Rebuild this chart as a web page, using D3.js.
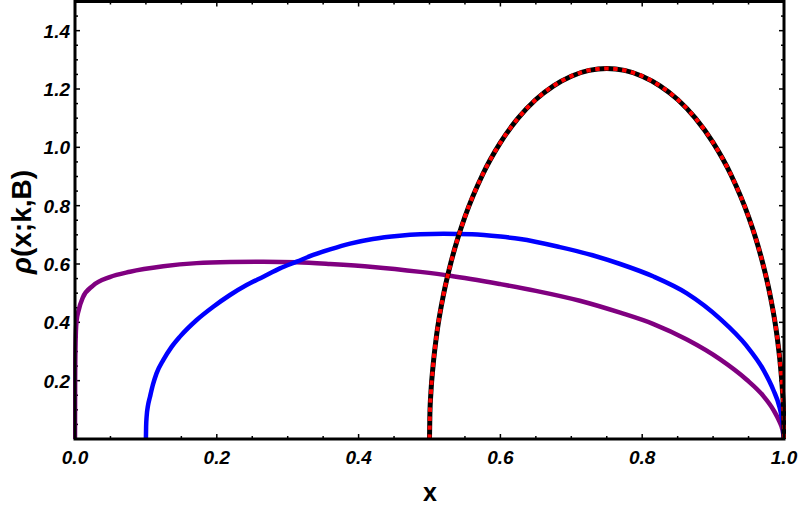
<!DOCTYPE html>
<html>
<head>
<meta charset="utf-8">
<script src="https://cdn.jsdelivr.net/npm/d3@7"></script>
<style>
    html, body { margin: 0; padding: 0; background: #fff; }
    svg { display: block; font-family: "Liberation Sans", Arial, sans-serif; }
</style>
</head>
<body>
<div id="chart"></div>
<script>
// =============================================================================
// Data - values
// =============================================================================
const xTicks = [0, 0.2, 0.4, 0.6, 0.8, 1.0];
const yTicks = [0.2, 0.4, 0.6, 0.8, 1.0, 1.2, 1.4];

// purple curve (starts at x = 0)
const purpleX = [0, 0.0002, 0.0008, 0.002, 0.005, 0.011, 0.025, 0.049, 0.0776, 0.1246, 0.1716,
    0.2186, 0.2656, 0.3127, 0.3597, 0.42, 0.487, 0.529, 0.6, 0.65, 0.712, 0.769, 0.816, 0.863,
    0.91, 0.947, 0.971, 0.985, 0.9935, 0.998, 1.0];
const purpleY = [0, 0.2, 0.33, 0.40, 0.44, 0.485, 0.525, 0.555, 0.5735, 0.592, 0.603,
    0.607, 0.608, 0.606, 0.600, 0.590, 0.573, 0.560, 0.531, 0.508, 0.474, 0.433, 0.394, 0.341,
    0.273, 0.204, 0.147, 0.100, 0.060, 0.03, 0];

// blue curve (starts at x = 0.1)
const blueX = [0.1, 0.1003, 0.101, 0.103, 0.1058, 0.11, 0.115, 0.1246, 0.136, 0.148, 0.1716,
    0.195, 0.2186, 0.242, 0.2656, 0.289, 0.3127, 0.336, 0.3597, 0.388, 0.42, 0.458, 0.487, 0.52,
    0.56, 0.6, 0.628, 0.684, 0.73, 0.769, 0.816, 0.863, 0.91, 0.947, 0.971, 0.985, 0.9935,
    0.9967, 0.999, 1.0];
const blueY = [0, 0.043, 0.076, 0.115, 0.145, 0.187, 0.225, 0.271, 0.315, 0.351, 0.408,
    0.4535, 0.4937, 0.528, 0.5565, 0.585, 0.608, 0.631, 0.650, 0.670, 0.686, 0.697, 0.702, 0.704,
    0.702, 0.694, 0.686, 0.658, 0.630, 0.600, 0.557, 0.4995, 0.412, 0.320, 0.237, 0.168, 0.111,
    0.075, 0.035, 0];

// black solid curve, red dotted curve lies on top of it
const blackX = [0.5, 0.5005, 0.502, 0.505, 0.51, 0.52, 0.53, 0.54, 0.55, 0.575, 0.6, 0.625,
    0.65, 0.675, 0.7, 0.725, 0.75, 0.775, 0.8, 0.825, 0.85, 0.875, 0.9, 0.925, 0.95, 0.96,
    0.97, 0.98, 0.99, 0.995, 0.998, 0.9995, 1.0];
const blackY = [0, 0.08, 0.16, 0.25, 0.356, 0.498, 0.603, 0.689, 0.762, 0.907, 1.016, 1.10,
    1.164, 1.211, 1.244, 1.264, 1.27, 1.264, 1.244, 1.211, 1.164, 1.10, 1.016, 0.907, 0.762, 0.689,
    0.603, 0.498, 0.356, 0.25, 0.16, 0.08, 0];
const redX = blackX;
const redY = blackY;

// =============================================================================
// Visual configuration
// =============================================================================
const WIDTH = 800;
const HEIGHT = 507;
const FRAME = { left: 75, right: 784, top: 1.5, bottom: 439 };
const FRAME_STROKE = 3;
const MAJOR_TICK = 5;
const MINOR_TICK = 3;
const LINE_WIDTH = 4.5;
const TICK_FONT = '19px';

const svg = d3.select('#chart')
    .append('svg')
    .attr('width', WIDTH)
    .attr('height', HEIGHT);

const xScale = d3.scaleLinear().domain([0, 1]).range([FRAME.left, FRAME.right]);
const yScale = d3.scaleLinear().domain([0, 1.5]).range([FRAME.bottom, FRAME.top]);

// Clip for curves
svg.append('defs')
    .append('clipPath')
    .attr('id', 'clip')
    .append('rect')
    .attr('x', FRAME.left - 2)
    .attr('y', FRAME.top)
    .attr('width', FRAME.right - FRAME.left + 4)
    .attr('height', FRAME.bottom - FRAME.top + 1);

// Minor tick values (every 0.05)
const xMinor = d3.range(0, 1.0001, 0.05).filter(v => !xTicks.some(t => Math.abs(t - v) < 1e-6));
const yMinor = d3.range(0.05, 1.5001, 0.05).filter(v => !yTicks.some(t => Math.abs(t - v) < 1e-6) && v < 1.49);

// Frame ticks (inside, mirrored on top and right)
const ticks = svg.append('g')
    .attr('stroke', '#000')
    .attr('stroke-width', 1.5);

function addXTicks(values, len) {
    values.forEach(v => {
        ticks.append('line')
            .attr('x1', xScale(v)).attr('x2', xScale(v))
            .attr('y1', FRAME.bottom).attr('y2', FRAME.bottom - len);
        ticks.append('line')
            .attr('x1', xScale(v)).attr('x2', xScale(v))
            .attr('y1', FRAME.top).attr('y2', FRAME.top + len);
    });
}
function addYTicks(values, len) {
    values.forEach(v => {
        ticks.append('line')
            .attr('x1', FRAME.left).attr('x2', FRAME.left + len)
            .attr('y1', yScale(v)).attr('y2', yScale(v));
        ticks.append('line')
            .attr('x1', FRAME.right).attr('x2', FRAME.right - len)
            .attr('y1', yScale(v)).attr('y2', yScale(v));
    });
}
addXTicks(xTicks, MAJOR_TICK);
addXTicks(xMinor, MINOR_TICK);
addYTicks(yTicks, MAJOR_TICK);
addYTicks(yMinor, MINOR_TICK);

// Curves
const line = d3.line()
    .x(d => xScale(d[0]))
    .y(d => yScale(d[1]))
    .curve(d3.curveMonotoneX);

const curves = svg.append('g').attr('clip-path', 'url(#clip)');

curves.append('path')
    .attr('d', line(d3.zip(purpleX, purpleY)))
    .attr('fill', 'none')
    .attr('stroke', '#800080')
    .attr('stroke-width', LINE_WIDTH);

curves.append('path')
    .attr('d', line(d3.zip(blueX, blueY)))
    .attr('fill', 'none')
    .attr('stroke', '#0000ff')
    .attr('stroke-width', LINE_WIDTH);

curves.append('path')
    .attr('d', line(d3.zip(blackX, blackY)))
    .attr('fill', 'none')
    .attr('stroke', '#000')
    .attr('stroke-width', 5);

curves.append('path')
    .attr('d', line(d3.zip(redX, redY)))
    .attr('fill', 'none')
    .attr('stroke', '#ff0000')
    .attr('stroke-width', 4)
    .attr('stroke-dasharray', '4.5,4.5');

// Frame
svg.append('rect')
    .attr('x', FRAME.left)
    .attr('y', FRAME.top)
    .attr('width', FRAME.right - FRAME.left)
    .attr('height', FRAME.bottom - FRAME.top)
    .attr('fill', 'none')
    .attr('stroke', '#000')
    .attr('stroke-width', FRAME_STROKE);

// Tick labels
const fmt = d3.format('.1f');
svg.append('g')
    .selectAll('text')
    .data(xTicks)
    .enter()
    .append('text')
    .attr('x', d => xScale(d))
    .attr('y', 464)
    .attr('text-anchor', 'middle')
    .attr('font-size', TICK_FONT)
    .attr('font-weight', 'bold')
    .attr('font-style', 'italic')
    .text(fmt);

svg.append('g')
    .selectAll('text')
    .data(yTicks)
    .enter()
    .append('text')
    .attr('x', 70)
    .attr('y', d => yScale(d))
    .attr('dy', '0.36em')
    .attr('text-anchor', 'end')
    .attr('font-size', TICK_FONT)
    .attr('font-weight', 'bold')
    .attr('font-style', 'italic')
    .text(fmt);

// Axis titles
svg.append('text')
    .attr('x', 430)
    .attr('y', 501)
    .attr('text-anchor', 'middle')
    .attr('font-size', '25px')
    .attr('font-weight', 'bold')
    .text('x');

const yTitle = svg.append('text')
    .attr('transform', 'translate(31,222) rotate(-90)')
    .attr('text-anchor', 'middle')
    .attr('font-size', '28px')
    .attr('font-weight', 'bold');
yTitle.append('tspan').attr('font-style', 'italic').text('ρ');
yTitle.append('tspan').text('(x;k,B)');
</script>
</body>
</html>
